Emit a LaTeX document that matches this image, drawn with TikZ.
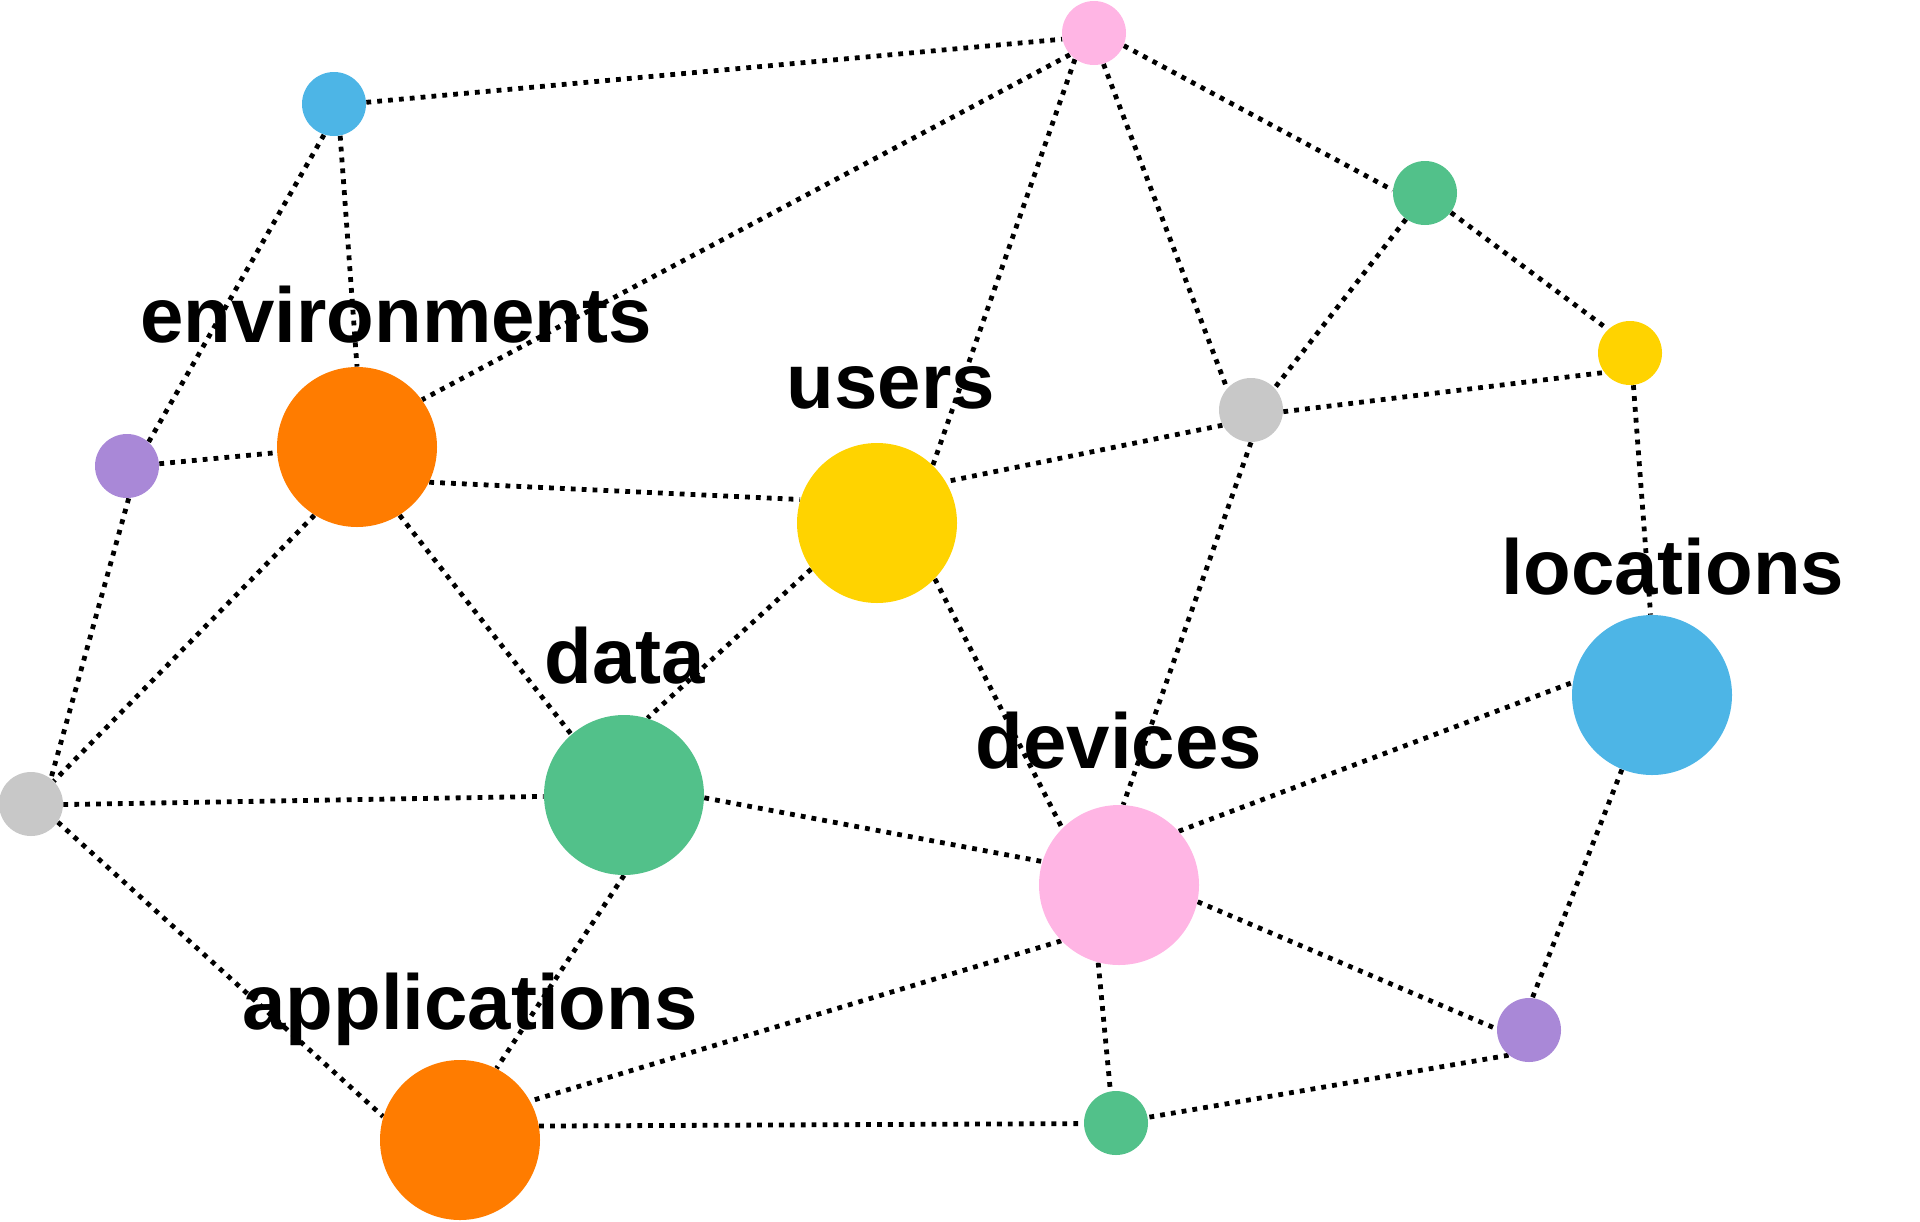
\documentclass[tikz,border=0pt]{standalone}
\usepackage{fontspec}
\setmainfont{Liberation Sans}
\definecolor{corange}{HTML}{FF7C00}
\definecolor{cyellow}{HTML}{FFD300}
\definecolor{cgreen}{HTML}{52C18A}
\definecolor{cblue}{HTML}{4DB5E6}
\definecolor{cpink}{HTML}{FFB5E4}
\definecolor{cpurple}{HTML}{A988D7}
\definecolor{cgray}{HTML}{C8C8C8}
\pgfdeclarelayer{lbl}
\pgfdeclarelayer{edges}
\pgfsetlayers{lbl,edges,main}
\tikzset{
  bignode/.style={circle,inner sep=0pt,minimum size=80pt,draw=none},
  smallnode/.style={circle,inner sep=0pt,minimum size=32pt,draw=none},
  link/.style={line width=2.4pt,dash pattern=on 2.4pt off 3.05pt,black},
  lbltext/.style={font=\fontsize{39}{44}\selectfont\bfseries,inner sep=0pt,anchor=base}
}
\begin{document}
\begin{tikzpicture}[x=0.5pt,y=-0.5pt]
\useasboundingbox (0,0) rectangle (1920,1221);
% nodes
\node[smallnode,fill=cpink]   (pinkT)   at (1094,33) {};
\node[smallnode,fill=cblue]   (blueS)   at (334,104) {};
\node[smallnode,fill=cgreen]  (greenT)  at (1425,193) {};
\node[smallnode,fill=cyellow] (yellowS) at (1630,353) {};
\node[smallnode,fill=cgray]   (grayM)   at (1251,410) {};
\node[smallnode,fill=cpurple] (purpleL) at (127,466) {};
\node[bignode,fill=corange]   (env)     at (357,447) {};
\node[bignode,fill=cyellow]   (users)   at (877,523) {};
\node[bignode,fill=cgreen]    (data)    at (624,795) {};
\node[bignode,fill=cblue]     (loc)     at (1652,695) {};
\node[bignode,fill=cpink]     (dev)     at (1119,885) {};
\node[smallnode,fill=cgray]   (grayL)   at (31,804) {};
\node[bignode,fill=corange]   (apps)    at (460,1140) {};
\node[smallnode,fill=cgreen]  (greenB)  at (1116,1123) {};
\node[smallnode,fill=cpurple] (purpleB) at (1529,1030) {};
% labels
\begin{pgfonlayer}{lbl}
\node[lbltext] (tenv)  at (396,342)  {environments};
\node[lbltext] (tusr)  at (891,408)  {users};
\node[lbltext] (tdata) at (625,683)  {data};
\node[lbltext] (tloc)  at (1673,594) {locations};
\node[lbltext] (tdev)  at (1119,768) {devices};
\node[lbltext] (tapp)  at (470,1029) {applications};
\end{pgfonlayer}
% edges
\begin{pgfonlayer}{edges}
\foreach \a/\b in {
  blueS.3.6/pinkT.191,
  blueS.-108/purpleL.48.7,
  blueS.-79/env.90.4,
  pinkT.-138.8/env.36.3,
  pinkT.-126/users.46.6,
  pinkT.-73.6/grayM.138.5,
  pinkT.-23.8/greenT.175,
  greenT.-37.6/yellowS.133.6,
  greenT.-126.6/grayM.43.6,
  grayM.-3.4/yellowS.-143.6,
  grayM.-152.4/users.31.8,
  grayM.-90/dev.87,
  yellowS.-84.8/loc.91,
  purpleL.4.6/env.184.4,
  purpleL.-87/grayL.52,
  env.-122.4/grayL.45,
  env.-26.6/users.163,
  env.-58/data.131,
  users.-145/data.73.9,
  users.-44.2/dev.135.5,
  grayL.-1/data.181,
  grayL.-34/apps.163.2,
  data.-2.3/dev.163.5,
  data.-90.5/apps.63.1,
  dev.42.2/loc.171,
  dev.-12.8/purpleB.178,
  dev.-136.4/apps.29.6,
  dev.-105.3/greenB.100,
  loc.-112/purpleB.84.6,
  purpleB.-129/greenB.10.2,
  apps.10.8/greenB.181}
  \draw[link] (\a) -- (\b);
\end{pgfonlayer}
\end{tikzpicture}
\end{document}
